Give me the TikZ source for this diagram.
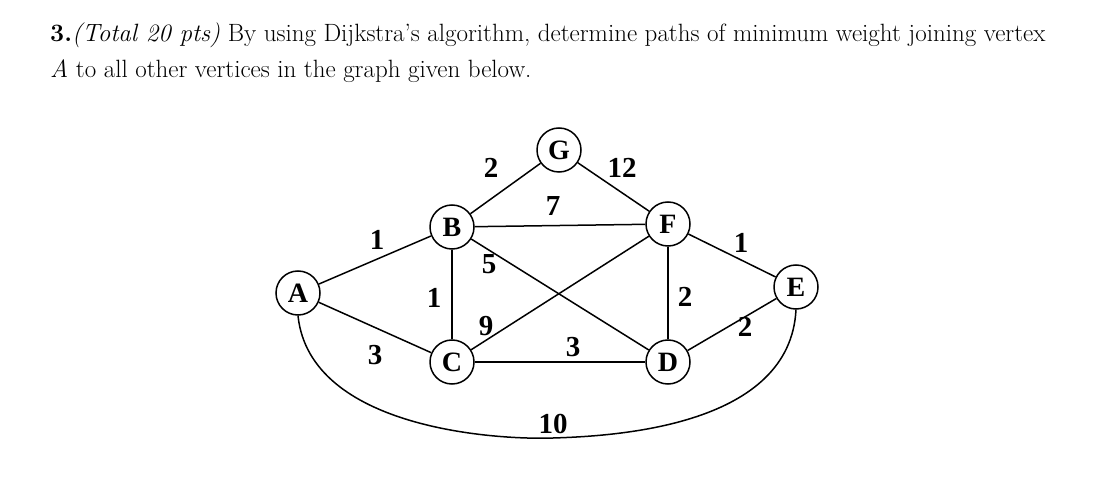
\documentclass[tikz,border=0pt]{standalone}
\usepackage{fontspec}
\setmainfont{Liberation Serif}
\newfontfamily\lmfont{Latin Modern Roman}
\begin{document}
\begin{tikzpicture}[x=1pt,y=-1pt,
  vtx/.style={circle,draw,line width=1.5pt,minimum size=44pt,inner sep=0pt,font=\fontsize{28}{28}\selectfont\bfseries},
  wt/.style={font=\fontsize{29}{29}\selectfont\bfseries,inner sep=1pt},
  edge/.style={line width=1.5pt}]
\useasboundingbox (0,0) rectangle (1093,481);
\node[anchor=base west,inner sep=0pt,font=\lmfont\fontsize{25}{25}\selectfont] (t1) at (50,42) {\textbf{3.}\textit{(Total 20 pts)} By using Dijkstra’s algorithm, determine paths of minimum weight joining vertex};
\node[anchor=base west,inner sep=0pt,font=\lmfont\fontsize{25}{25}\selectfont] (t2) at (50,78) {\textit{A} to all other vertices in the graph given below.};
\node[vtx] (A) at (298,293) {A};
\node[vtx] (B) at (452,227) {B};
\node[vtx] (C) at (452,362) {C};
\node[vtx] (G) at (559,150) {G};
\node[vtx] (F) at (668,224) {F};
\node[vtx] (D) at (668,362) {D};
\node[vtx] (E) at (796,287) {E};
\draw[edge] (A)--(B); \draw[edge] (A)--(C); \draw[edge] (B)--(C);
\draw[edge] (B)--(G); \draw[edge] (G)--(F); \draw[edge] (B)--(F);
\draw[edge] (B)--(D); \draw[edge] (C)--(F); \draw[edge] (C)--(D);
\draw[edge] (F)--(D); \draw[edge] (F)--(E); \draw[edge] (D)--(E);
\draw[edge] (A.south) .. controls (310,430) and (500,440) .. (553,438)
  .. controls (620,436) and (790,425) .. (E.south);
\node[wt] (l1) at (377,240) {1};
\node[wt] (l2) at (375,355) {3};
\node[wt] (l3) at (434,298) {1};
\node[wt] (l4) at (491,168) {2};
\node[wt] (l5) at (622,168) {12};
\node[wt] (l6) at (553,206) {7};
\node[wt] (l7) at (489,264) {5};
\node[wt] (l8) at (486,326) {9};
\node[wt] (l9) at (573,347) {3};
\node[wt] (l10) at (685,297) {2};
\node[wt] (l11) at (741,243) {1};
\node[wt] (l12) at (745,327) {2};
\node[wt] (l13) at (553,424) {10};
\end{tikzpicture}
\end{document}
